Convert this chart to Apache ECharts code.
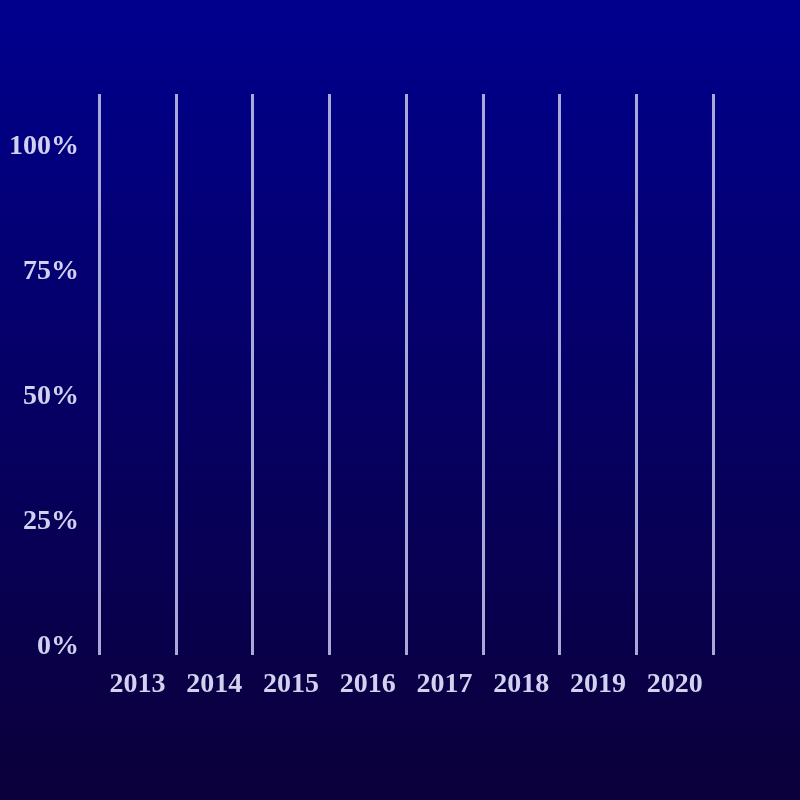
<!DOCTYPE html>
<html>
<head>
<meta charset="utf-8">
<script src="https://cdn.jsdelivr.net/npm/echarts@6/dist/echarts.min.js"></script>
<style>html,body{margin:0;padding:0;}#c{width:800px;height:800px;}</style>
</head>
<body>
<div id="c"></div>
<script>
var categories = ['2013', '2014', '2015', '2016', '2017', '2018', '2019', '2020'];
var seriesValues = [null, null, null, null, null, null, null, null];
var yTickValues = [0, 25, 50, 75, 100];

var chart = echarts.init(document.getElementById('c'));
var labelFont = {
  color: '#d2d2f0',
  fontFamily: '"Liberation Serif", serif',
  fontWeight: 'bold',
  fontSize: 28
};
chart.setOption({
  backgroundColor: {
    type: 'linear', x: 0, y: 0, x2: 0, y2: 1,
    colorStops: [{ offset: 0, color: '#00008e' }, { offset: 1, color: '#0b003a' }]
  },
  grid: [
    { left: 99, right: 87, top: 94, bottom: 145 },
    { left: 99, right: 87, top: 147, bottom: 153 }
  ],
  xAxis: [
    {
      type: 'category', gridIndex: 0, data: categories, boundaryGap: true,
      axisLine: { show: false }, axisTick: { show: false },
      splitLine: { show: true, lineStyle: { color: '#a9a9d8', width: 3 } },
      axisLabel: Object.assign({ margin: 16, verticalAlign: 'top', interval: 0 }, labelFont)
    },
    { type: 'category', gridIndex: 1, data: categories, show: false }
  ],
  yAxis: [
    { type: 'value', gridIndex: 0, show: false, min: 0, max: 100 },
    {
      type: 'value', gridIndex: 1, min: yTickValues[0], max: yTickValues[yTickValues.length - 1], interval: 25,
      axisLine: { show: false }, axisTick: { show: false }, splitLine: { show: false },
      axisLabel: Object.assign({ margin: 20, formatter: '{value}%' }, labelFont)
    }
  ],
  series: [
    { type: 'bar', xAxisIndex: 0, yAxisIndex: 0, data: seriesValues }
  ]
});
</script>
</body>
</html>
